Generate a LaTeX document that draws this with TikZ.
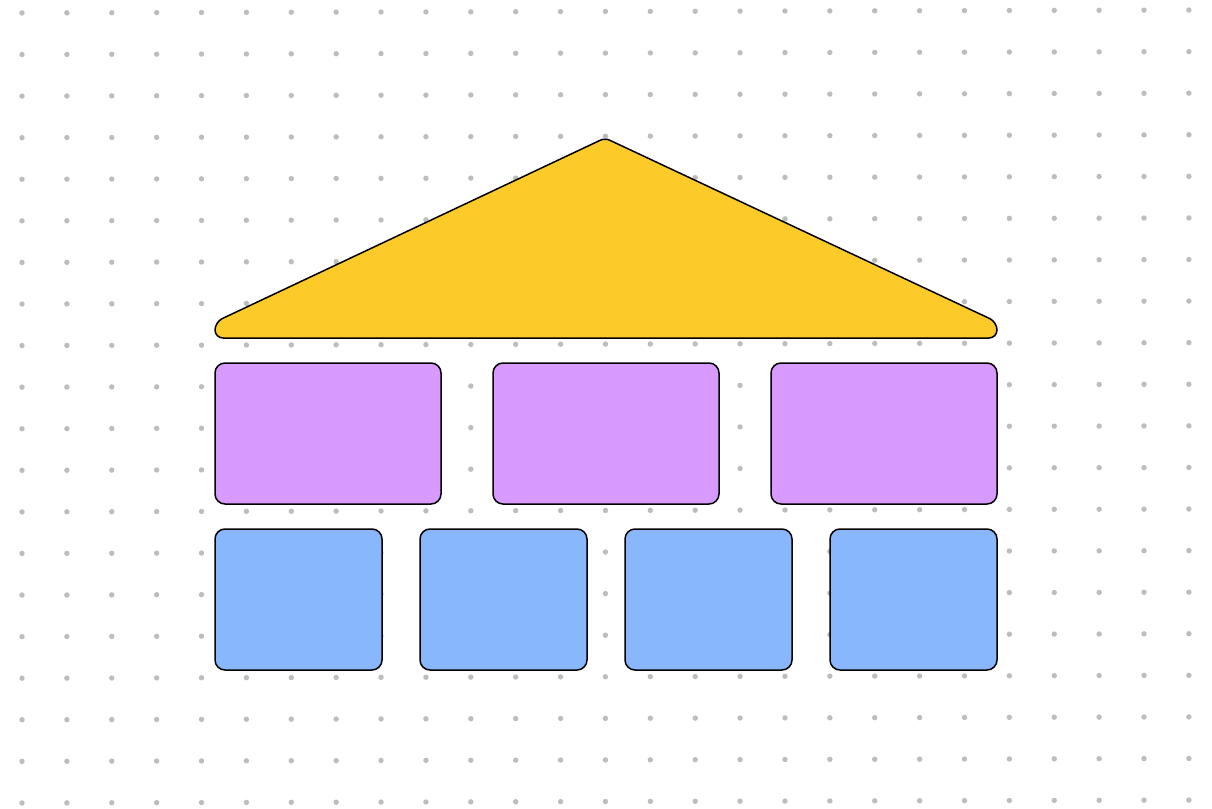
\documentclass[tikz,border=0pt]{standalone}
\usetikzlibrary{positioning}
\definecolor{dotgray}{HTML}{BDBDBD}
\definecolor{roofyellow}{HTML}{FDCB29}
\definecolor{pillarpurple}{HTML}{D89AFE}
\definecolor{baseblue}{HTML}{88B7FE}
\tikzset{
  pillar/.style={draw=black, line width=1.5pt, fill=pillarpurple, rounded corners=10pt,
    rectangle, inner sep=0pt, minimum width=226pt, minimum height=141pt},
  block/.style={draw=black, line width=1.5pt, fill=baseblue, rounded corners=10pt,
    rectangle, inner sep=0pt, minimum width=167pt, minimum height=141pt},
  roof/.style={draw=black, line width=1.5pt, fill=roofyellow, line join=round},
}
\begin{document}
\begin{tikzpicture}[x=1pt, y=-1pt]
\useasboundingbox (0,0) rectangle (1212,808);
\fill[white] (0,0) rectangle (1212,808);
% dot grid
\foreach \i in {0,...,26}{
  \foreach \j in {0,...,19}{
    \pgfmathsetmacro{\xx}{22+44.88*\i}
    \pgfmathsetmacro{\yy}{13+41.58*\j-0.0025*\xx}
    \fill[dotgray] (\xx,\yy) circle (2.7);
  }
}
% roof
\draw[roof, rounded corners=8pt] (606,338) -- (215,338) -- (215,322) [rounded corners=5pt] -- (605,138) [rounded corners=8pt] -- (997,322) -- (997,338) -- cycle;
% pillars
\node[pillar] (p1) at (328,433.5) {};
\node[pillar] (p2) at (606,433.5) {};
\node[pillar] (p3) at (884,433.5) {};
% base blocks
\node[block] (b1) at (298.5,599.5) {};
\node[block] (b2) at (503.5,599.5) {};
\node[block] (b3) at (708.5,599.5) {};
\node[block] (b4) at (913.5,599.5) {};
\end{tikzpicture}
\end{document}
